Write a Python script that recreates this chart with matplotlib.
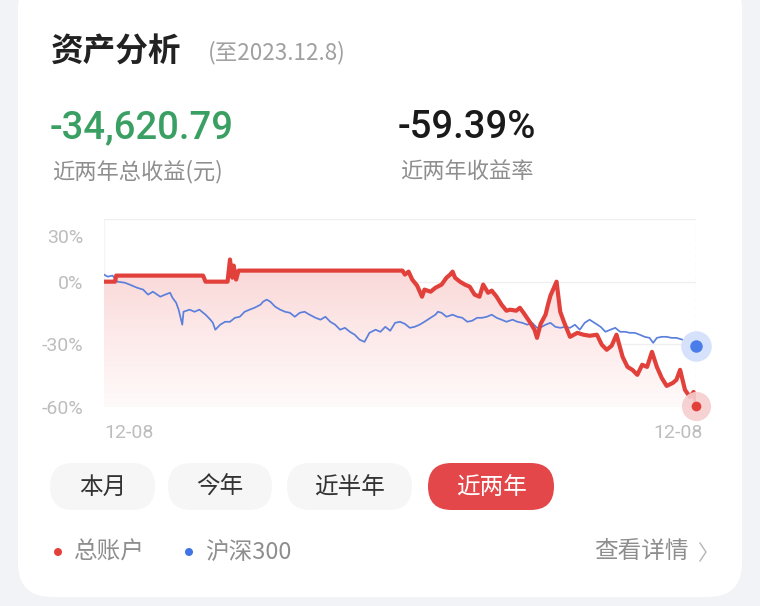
import matplotlib
matplotlib.use("Agg")
import matplotlib.pyplot as plt
import numpy as np
from matplotlib.patches import FancyBboxPatch, Circle
from matplotlib.transforms import ScaledTranslation
from matplotlib.colors import LinearSegmentedColormap

plt.rcParams['font.family'] = ['Noto Sans CJK SC', 'DejaVu Sans']

# ---------------- data ----------------
title = "资产分析"
as_of = "(至2023.12.8)"
total_profit = "-34,620.79"
total_profit_label = "近两年总收益(元)"
return_rate = "-59.39%"
return_rate_label = "近两年收益率"
periods = ["本月", "今年", "近半年", "近两年"]
active_period = "近两年"
series_names = ["总账户", "沪深300"]
detail_text = "查看详情"
y_ticks = [30, 0, -30, -60]
y_tick_labels = ["30%", "0%", "-30%", "-60%"]
x_tick_labels = ["12-08", "12-08"]
n_days = 485  # trading days in the two-year window

# 总账户 cumulative return (%) at trading-day indices
acct_days = [0, 9, 10, 81, 83, 101, 103, 105, 106, 108, 110, 244, 246, 249, 252, 256,
             260, 262, 267, 271, 276, 280, 283, 285, 287, 291, 295, 299, 303, 307, 310,
             314, 317, 321, 325, 329, 332, 337, 340, 343, 348, 352, 354, 357, 361, 363,
             365, 370, 373, 376, 381, 387, 392, 397, 403, 407, 411, 415, 419, 424, 428,
             432, 436, 440, 444, 448, 452, 456, 460, 465, 468, 471, 475, 479, 482, 484]
acct_ret = [0.0, 0.0, 2.9, 2.9, 0.0, 0.0, 10.6, 1.9, 7.7, 1.0, 5.3, 5.3, 3.4, 4.8, 1.0, -1.9,
            -7.2, -3.8, -4.8, -2.9, -1.4, 1.9, 3.4, 4.8, 1.9, 0.0, -1.4, -2.4, -6.2, -7.2, -1.4,
            -5.3, -4.3, -7.2, -11.0, -13.9, -13.4, -13.9, -12.5, -14.9, -19.2, -23.0, -26.9, -20.2, -15.8, -11.0,
            -6.7, 0.0, -14.4, -19.2, -26.4, -24.5, -25.4, -25.9, -25.4, -30.2, -32.6, -30.7, -25.4, -36.0, -40.8,
            -42.2, -44.6, -39.8, -40.8, -33.6, -40.8, -46.1, -49.9, -48.5, -47.0, -42.2, -51.8, -55.2, -52.8, -59.39]

# 沪深300 cumulative return (%) at trading-day indices
idx_days = [0, 3, 7, 11, 17, 21, 27, 32, 36, 40, 46, 50, 54, 56, 59, 61, 64, 65, 70, 74,
            78, 83, 87, 89, 91, 95, 99, 103, 107, 111, 115, 119, 123, 128, 130, 133, 136, 140,
            144, 148, 152, 156, 160, 164, 168, 173, 177, 181, 185, 189, 193, 197, 201, 205,
            209, 213, 217, 222, 226, 230, 234, 238, 242, 246, 250, 254, 258, 262, 267, 271,
            273, 276, 280, 285, 289, 293, 297, 301, 305, 309, 313, 317, 321, 325, 329, 334,
            338, 342, 346, 350, 354, 358, 361, 365, 369, 373, 377, 381, 385, 389, 393, 397,
            401, 406, 410, 414, 418, 422, 426, 430, 434, 438, 442, 446, 449, 452, 456, 460,
            464, 468, 473, 477, 481, 484]
idx_ret = [3.4, 2.4, 2.9, 0.0, -0.5, -1.4, -2.9, -3.8, -6.2, -4.8, -7.2, -6.2, -5.3, -7.7, -10.1, -13.4, -20.6, -14.4, -13.4, -14.4,
           -13.4, -15.8, -18.2, -19.7, -23.0, -20.6, -19.2, -19.2, -17.3, -16.8, -14.4, -13.4, -12.5, -11.0, -9.6, -8.6, -9.6, -12.0,
           -13.4, -14.4, -14.9, -16.8, -14.9, -14.4, -15.8, -17.3, -18.2, -16.8, -19.2, -20.6, -23.0, -22.1, -24.0, -25.4,
           -27.8, -28.8, -24.5, -23.0, -24.0, -21.6, -23.5, -19.7, -19.2, -20.2, -22.1, -21.6, -20.6, -19.2, -17.3, -15.8,
           -14.4, -14.9, -16.8, -15.8, -16.8, -17.3, -19.2, -18.7, -17.3, -17.3, -16.8, -15.8, -17.3, -18.2, -19.2, -18.2,
           -19.2, -19.7, -20.6, -19.7, -22.1, -21.6, -20.6, -19.7, -21.6, -22.1, -21.6, -22.1, -20.6, -23.0, -19.7, -18.2,
           -19.7, -21.6, -24.0, -23.0, -22.1, -24.0, -24.0, -24.5, -24.5, -25.4, -26.4, -26.9, -29.3, -26.9, -26.4, -26.4,
           -26.9, -26.9, -27.8, -28.8, -30.2, -30.7]

# ---------------- colours ----------------
BG = "#f2f3f7"
RED = "#e2413b"
BLUE = "#5b80dc"
GREEN = "#3a9f62"
GRAY_TXT = "#8e8e8e"
AXIS_TXT = "#bdbdbd"
GRID = "#efefef"

W, H = 760, 606
fig = plt.figure(figsize=(W / 100, H / 100), dpi=100, facecolor=BG)

# background / card layer in pixel coordinates
bg = fig.add_axes([0, 0, 1, 1])
bg.set_xlim(0, W)
bg.set_ylim(H, 0)
bg.axis("off")
bg.add_patch(FancyBboxPatch((18, -25), 724, 622, boxstyle="round,pad=0,rounding_size=34",
                            facecolor="white", edgecolor="none", zorder=0))

bg.text(51, 52, title, fontsize=23.5, weight="bold", color="#222222", va="center", ha="left")
bg.text(208, 53, as_of, fontsize=16.2, color="#a0a0a0", va="center", ha="left")
bg.text(50, 128, total_profit, fontsize=27.5, color=GREEN, va="center", ha="left",
        family=["Roboto", "DejaVu Sans"], weight="medium")
bg.text(52, 172, total_profit_label, fontsize=16, color=GRAY_TXT, va="center", ha="left")
bg.text(398, 128, return_rate, fontsize=27.5, color="#1a1a1a", va="center", ha="left",
        family=["Roboto", "DejaVu Sans"], weight="medium")
bg.text(400, 172, return_rate_label, fontsize=16, color=GRAY_TXT, va="center", ha="left")

# period pills
pill_x = [50, 168, 287, 428]
pill_w = [105, 104, 125, 126]
for name, px, pw in zip(periods, pill_x, pill_w):
    active = name == active_period
    bg.add_patch(FancyBboxPatch((px, 463), pw, 47, boxstyle="round,pad=0,rounding_size=23.5",
                                facecolor="#e3474a" if active else "#f6f6f6",
                                edgecolor="none", zorder=1))
    bg.text(px + pw / 2, 487, name, fontsize=17, color="white" if active else "#333333",
            va="center", ha="center", zorder=2)

# legend
for (lx, col), name in zip([(58, RED), (189, "#3f74e6")], series_names):
    bg.add_patch(Circle((lx, 552), 4, facecolor=col, edgecolor="none"))
    bg.text(lx + 16, 552, name, fontsize=17, color=GRAY_TXT, va="center", ha="left")
bg.text(689, 552, detail_text, fontsize=17, color=GRAY_TXT, va="center", ha="right")
bg.plot([700, 706, 700], [543, 552, 561], color="#b5b5b5", lw=1.0)

# ---------------- chart ----------------
x0, x1, ytop, ybot = 104, 696, 219, 407
ax = fig.add_axes([x0 / W, 1 - ybot / H, (x1 - x0) / W, (ybot - ytop) / H])
ax.set_facecolor("none")
for s in ax.spines.values():
    s.set_visible(False)

xmax = n_days - 1
for yv in y_ticks:
    ax.axhline(yv, color=GRID, lw=0.9, zorder=0)
ax.axvline(0, color="#f4f4f4", lw=0.9, zorder=0)
ax.axvline(xmax, color="#e6e6e6", lw=0.9, ls=(0, (3, 3)), zorder=0)

# gradient fill under the account line
fill = ax.fill_between(acct_days, acct_ret, -60, facecolor="none", edgecolor="none")
cmap = LinearSegmentedColormap.from_list("pinkfade", ["#fffafa", "#fde9e9", "#f9d4d4"])
grad = np.linspace(0, 1, 256).reshape(-1, 1)
im = ax.imshow(grad, cmap=cmap, extent=[0, xmax, -60, 12], origin="lower",
               aspect="auto", zorder=1, interpolation="bilinear")
im.set_clip_path(fill.get_paths()[0], transform=ax.transData)

ax.plot(idx_days, idx_ret, color=BLUE, lw=1.25, zorder=3, solid_joinstyle="round")
ax.plot(acct_days, acct_ret, color=RED, lw=3.0, zorder=4, solid_joinstyle="round")

# end markers
ax.plot(idx_days[-1], idx_ret[-1], "o", ms=22, color="#d6e2fb", mec="none", zorder=5, clip_on=False)
ax.plot(idx_days[-1], idx_ret[-1], "o", ms=9, color="#4a7de9", mec="none", zorder=6, clip_on=False)
ax.plot(acct_days[-1], acct_ret[-1], "o", ms=21, color="#f6cdcd", mec="none", zorder=5, clip_on=False, alpha=0.9)
ax.plot(acct_days[-1], acct_ret[-1], "o", ms=7, color=RED, mec="none", zorder=6, clip_on=False)

ax.set_xlim(0, xmax)
ax.set_ylim(-60, 30)
ax.set_yticks(y_ticks)
ax.set_yticklabels(y_tick_labels, family=["Roboto", "DejaVu Sans"], fontsize=14, color=AXIS_TXT)
ax.set_xticks([0, xmax])
ax.set_xticklabels(x_tick_labels, family=["Roboto", "DejaVu Sans"], fontsize=14, color=AXIS_TXT)
ax.tick_params(axis="both", length=0)
ax.tick_params(axis="y", pad=15)
ax.tick_params(axis="x", pad=12)

ylabs = ax.get_yticklabels()
ylabs[0].set_transform(ylabs[0].get_transform() + ScaledTranslation(0, -0.17, fig.dpi_scale_trans))
xlabs = ax.get_xticklabels()
xlabs[0].set_ha("left")
xlabs[1].set_ha("right")
xlabs[1].set_transform(xlabs[1].get_transform() + ScaledTranslation(0.07, 0, fig.dpi_scale_trans))

fig.savefig("out.png", dpi=100, facecolor=BG)
